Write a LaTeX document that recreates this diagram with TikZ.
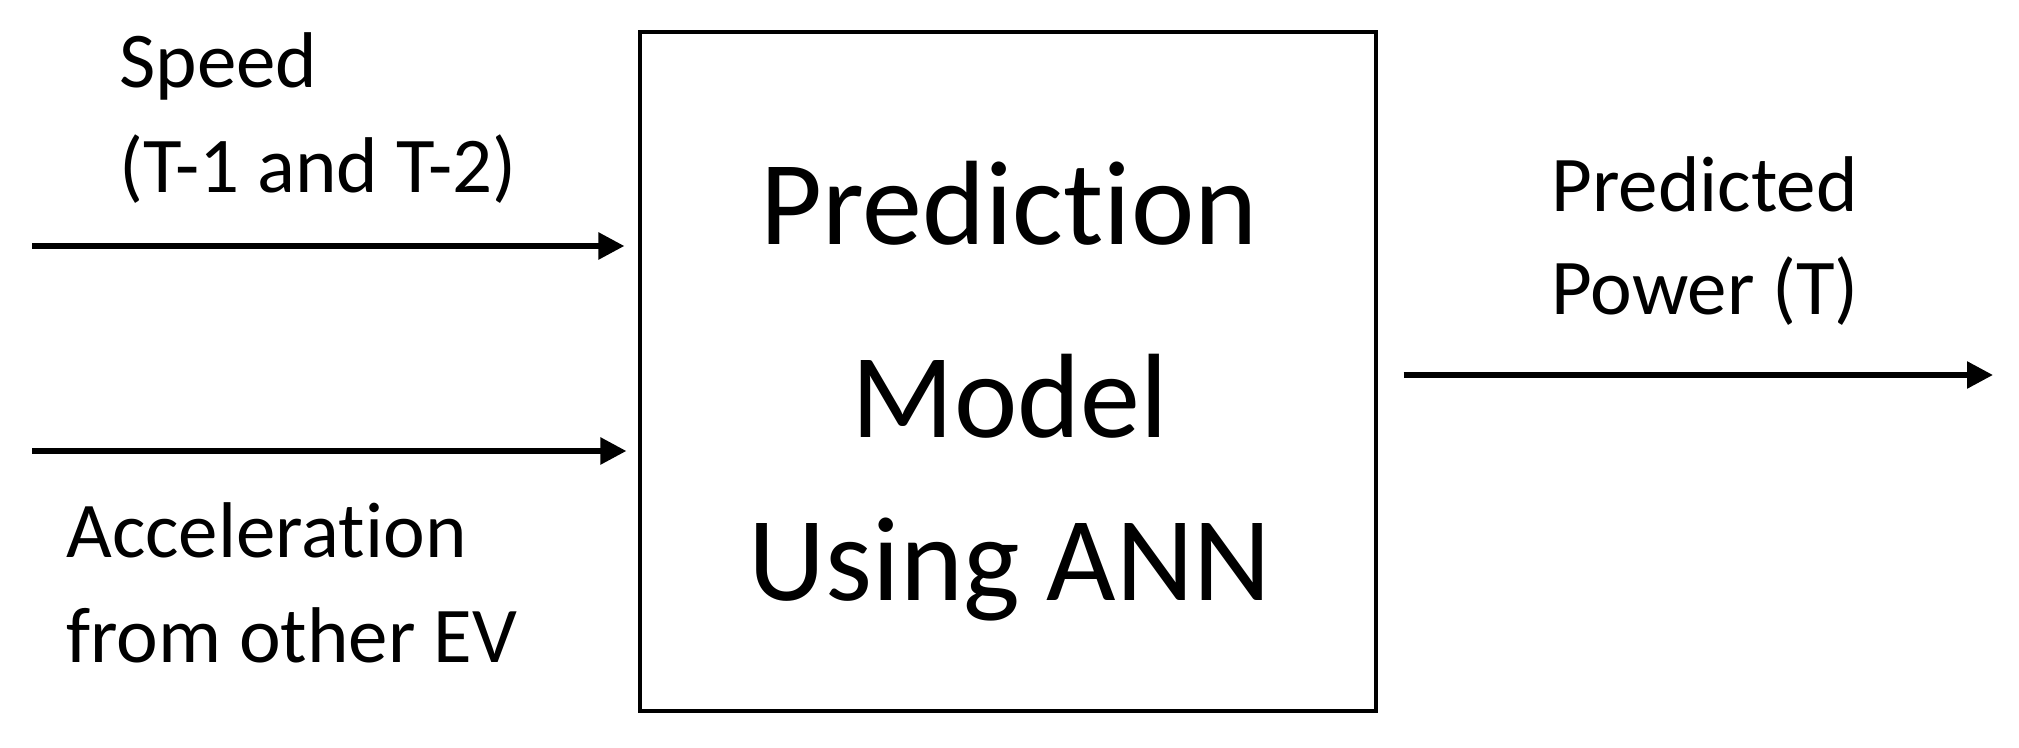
\documentclass[tikz,border=0pt]{standalone}
\usepackage{fontspec}
\setmainfont[Ligatures={NoCommon}]{Carlito}
\usetikzlibrary{arrows.meta}
\begin{document}
\begin{tikzpicture}[x=0.5pt,y=-0.5pt,
  lbl/.style={anchor=base west,inner sep=0pt,font=\fontsize{39.5pt}{47pt}\selectfont},
  big/.style={anchor=base,inner sep=0pt,font=\fontsize{60pt}{70pt}\selectfont},
  model/.style={draw,line width=1.6pt,minimum width=368pt,minimum height=339.5pt,inner sep=0pt},
  arr/.style={line width=2.8pt,-{Triangle[length=13pt,width=13pt]}}]
\useasboundingbox (0,0) rectangle (2019,748);
\node[model] (box) at (1008,371.5) {};
\node[big] (t1) at (1009,245) {Prediction};
\node[big] (t2) at (1010,438) {Model};
\node[big] (t3) at (1010,600) {Using ANN};
\node[lbl] (sp1) at (119,88) {Speed};
\node[lbl] (sp2) at (119,193) {(T-1 and T-2)};
\node[lbl] (ac1) at (66,557) {Acceleration};
\node[lbl] (ac2) at (66,662) {from other EV};
\node[lbl] (pp1) at (1551,212) {Predicted};
\node[lbl] (pp2) at (1551,315) {Power (T)};
\coordinate (in1) at (32,246);
\coordinate (in2) at (32,451);
\coordinate (out) at (1993,375);
\draw[arr,shorten >=7pt] (in1) -- (in1 -| box.west);
\draw[arr,shorten >=6pt] (in2) -- (in2 -| box.west);
\draw[arr,shorten <=13pt] (out -| box.east) -- (out);
\end{tikzpicture}
\end{document}
